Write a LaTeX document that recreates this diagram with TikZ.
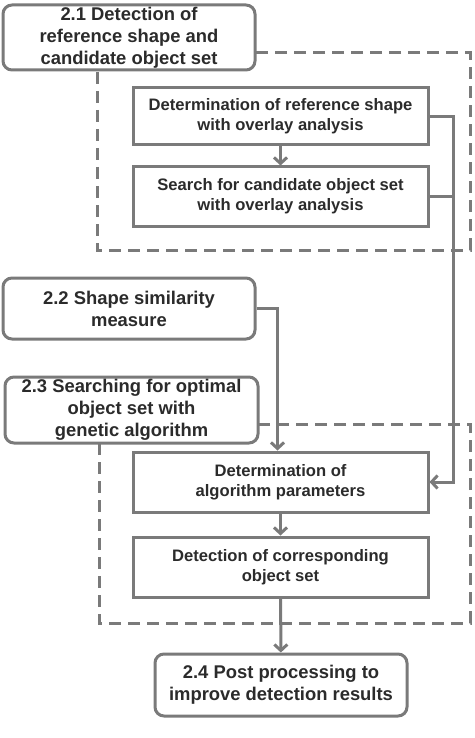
\documentclass[tikz,border=0pt]{standalone}
\usepackage{fontspec}
\setmainfont{Liberation Sans}
\usetikzlibrary{arrows.meta}
\definecolor{linegray}{HTML}{7A7A7A}
\definecolor{textgray}{HTML}{2B2B2B}
\tikzstyle{stage} = [rectangle, rounded corners=9pt, minimum width=252pt, minimum height=62pt, align=center, draw=linegray, line width=3pt, fill=white, text=textgray, font=\bfseries\fontsize{18.4}{22}\selectfont, inner sep=0pt]
\tikzstyle{process} = [rectangle, minimum width=295pt, minimum height=58pt, align=center, draw=linegray, line width=3pt, fill=white, text=textgray, font=\bfseries\fontsize{16.6}{20}\selectfont, inner sep=0pt]
\tikzstyle{arrow} = [draw=linegray, line width=3pt, -{Straight Barb[length=6pt,width=13pt]}]
\tikzstyle{link} = [draw=linegray, line width=3pt]
\tikzstyle{group} = [draw=linegray, line width=3pt, dash pattern=on 12pt off 7pt]

\begin{document}
\begin{tikzpicture}[x=1pt, y=-1pt]
\useasboundingbox (0,0) rectangle (474,738);

% Dashed groups
\draw [group] (97,53) rectangle (470,250);
\draw [group] (99,424) rectangle (470,623);

% Nodes
\node (s21) [stage, minimum height=65pt] at (129,37.5) {2.1 Detection of\\reference shape and\\candidate object set};
\node (detref) [process, minimum height=57pt] at (280.5,116.5) {Determination of reference shape\\with overlay analysis};
\node (search) [process, minimum height=59pt] at (280.5,196.5) {Search for candidate object set\\with overlay analysis};
\node (s22) [stage, minimum height=61pt] at (129,308.5) {2.2 Shape similarity\\measure};
\node (s23) [stage, minimum width=253pt, minimum height=66pt] at (131.5,410) {2.3 Searching for optimal\\object set with\\genetic algorithm};
\node (param) [process, minimum height=60pt] at (280.5,482) {Determination of\\algorithm parameters};
\node (detect) [process, minimum height=60pt] at (280.5,567) {Detection of corresponding\\object set};
\node (s24) [stage] at (281,685) {2.4 Post processing to\\improve detection results};
\coordinate (bus) at (453,116.5);

% Arrows
\draw [arrow] (detref) -- (search);
\draw [link] (search.east) -- (search.east -| bus);
\draw [arrow] (detref.east) -- (bus) |- (param.east);
\draw [arrow] (s22.east) -| ([xshift=-3pt]param.north);
\draw [arrow] (param) -- (detect);
\draw [arrow] (detect) -- (s24);

\end{tikzpicture}
\end{document}
